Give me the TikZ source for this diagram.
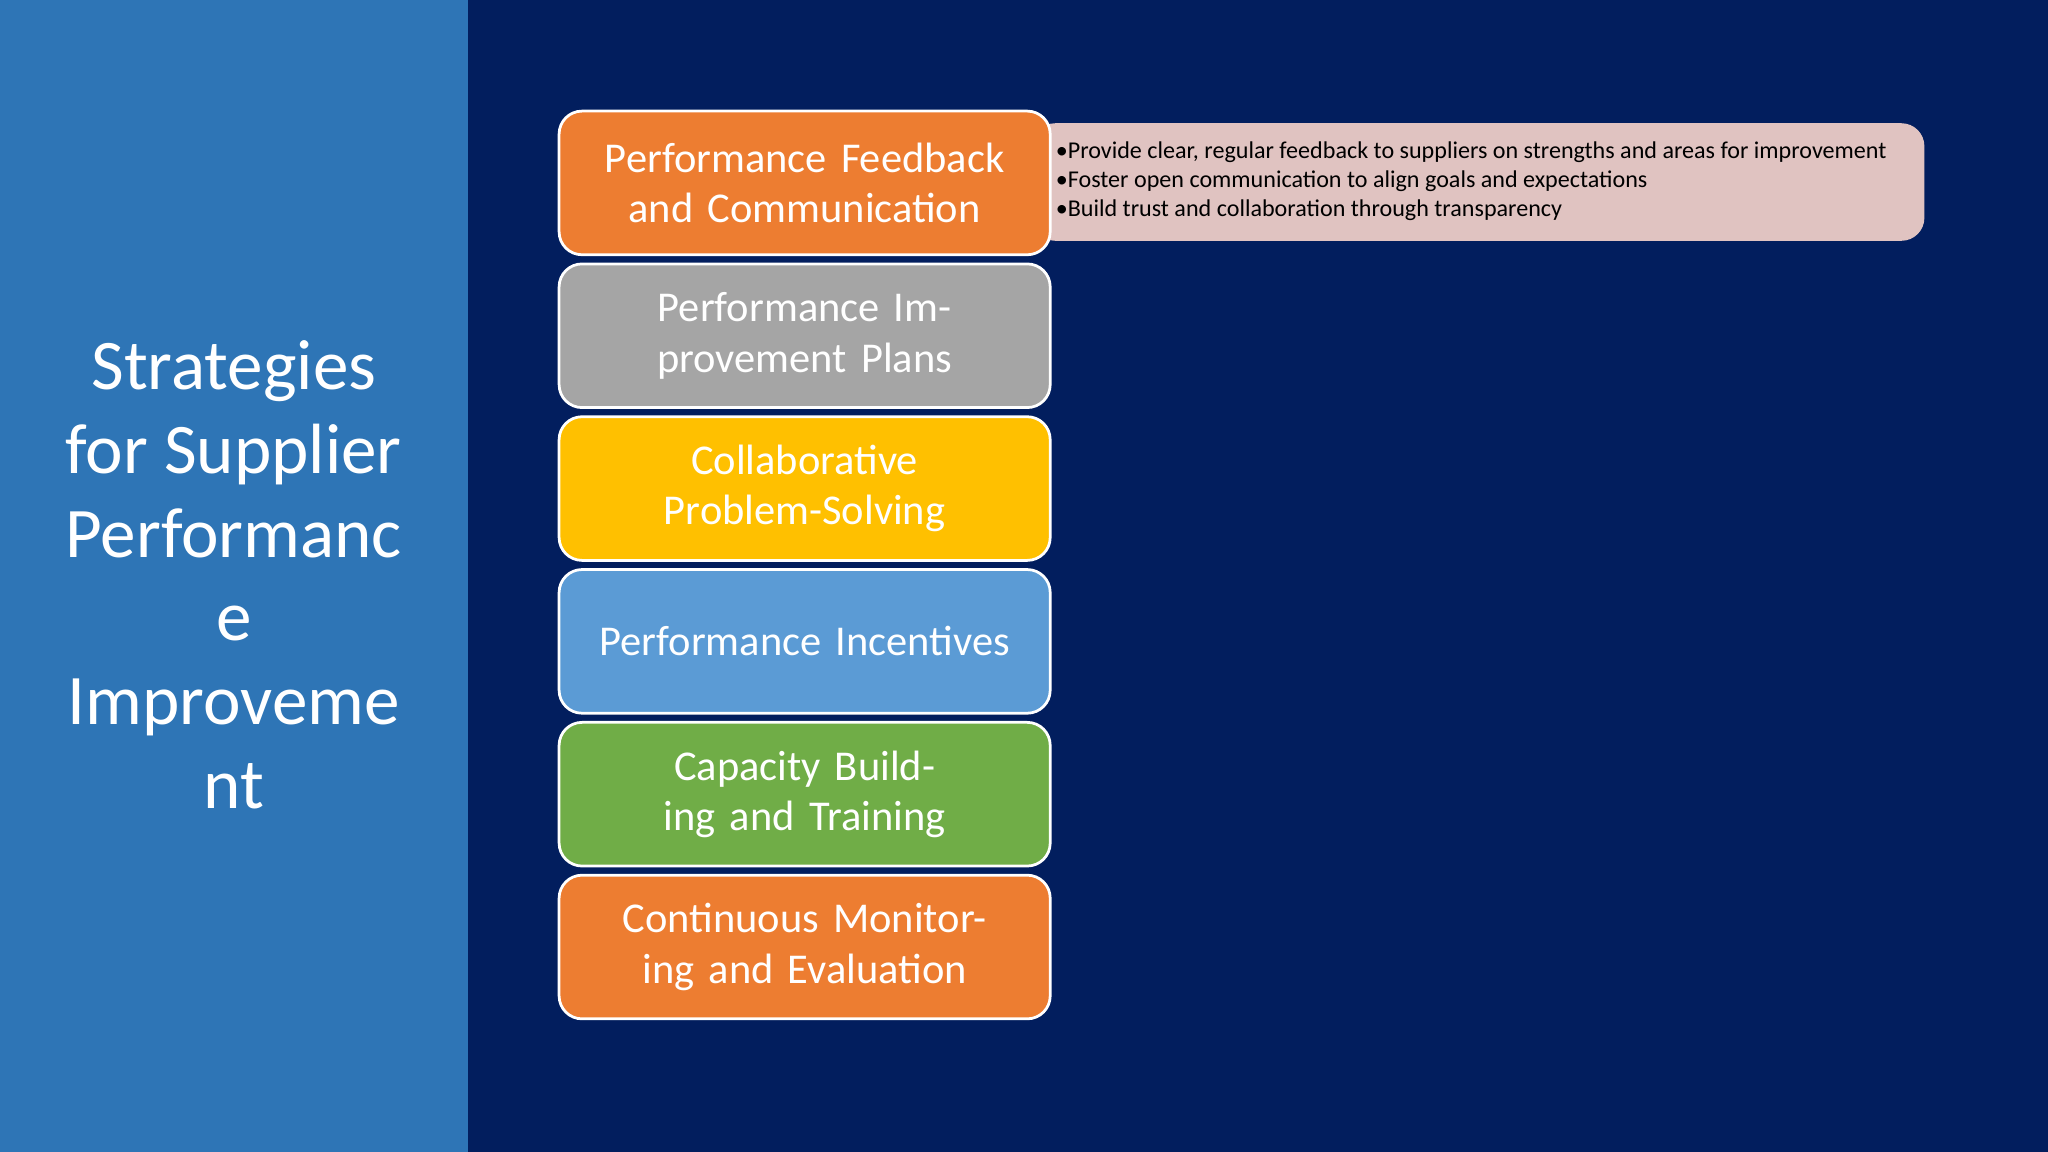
\documentclass[tikz,border=0pt]{standalone}
\usepackage{fontspec}
\setmainfont{Carlito}
\begin{document}
\begin{tikzpicture}[x=0.02cm,y=-0.02cm,
  stage/.style={draw=white,line width=1.2pt,rounded corners=10pt,minimum width=376*0.02cm,minimum height=110*0.02cm,text width=360*0.02cm,align=center,text=white,font=\fontsize{18.5}{22}\selectfont,anchor=north west,inner sep=0pt},
  detail/.style={fill=pinkc,rounded corners=10pt,anchor=north west,minimum width=683*0.02cm,minimum height=90*0.02cm,inner sep=0pt}]
\definecolor{navy}{HTML}{021E5E}
\definecolor{side}{HTML}{2E75B6}
\definecolor{orangec}{HTML}{ED7D31}
\definecolor{grayc}{HTML}{A5A5A5}
\definecolor{yellowc}{HTML}{FFC000}
\definecolor{bluec}{HTML}{5B9BD5}
\definecolor{greenc}{HTML}{70AD47}
\definecolor{pinkc}{HTML}{E0C3C1}
\fill[navy] (0,0) rectangle (1568,882);
\useasboundingbox (0,0) rectangle (1568,882);
\fill[side] (0,0) rectangle (358,882);
\node[text=white,align=center,font=\fontsize{31}{36.5}\selectfont] (title) at (179,440) {Strategies\\for Supplier\\Performanc\\e\\Improveme\\nt};
\node[detail] (d1) at (790,94) {};
\node[anchor=north west,align=left,font=\fontsize{10.5}{12.6}\selectfont,inner sep=0pt] (dt) at (808,108) {•Provide clear, regular feedback to suppliers on strengths and areas for improvement\\•Foster open communication to align goals and expectations\\•Build trust and collaboration through transparency};
\node[stage,fill=orangec] (s1) at (427,84) {Performance Feedback and Communication};
\node[stage,fill=grayc] (s2) at (427,201) {Performance Improvement Plans};
\node[stage,fill=yellowc] (s3) at (427,318) {Collaborative Problem-Solving};
\node[stage,fill=bluec] (s4) at (427,435) {Performance Incentives};
\node[stage,fill=greenc] (s5) at (427,552) {Capacity Building and Training};
\node[stage,fill=orangec] (s6) at (427,669) {Continuous Monitoring and Evaluation};
\end{tikzpicture}
\end{document}
